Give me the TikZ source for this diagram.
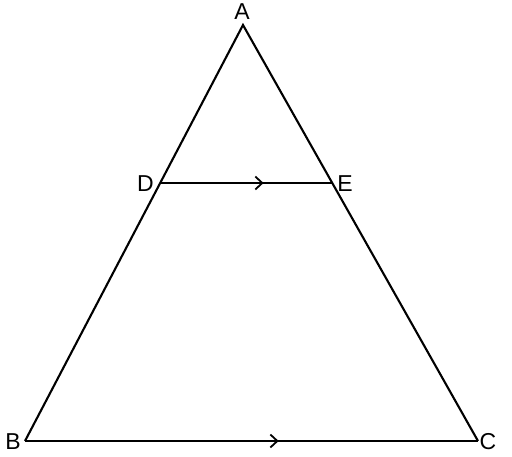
\documentclass[tikz,border=0pt]{standalone}
\usepackage{fontspec}
\setmainfont{Liberation Sans}
\usetikzlibrary{arrows.meta,decorations.markings}
\tikzset{
  edge/.style={line width=2.1pt, black},
  lbl/.style={font=\fontsize{23}{23}\selectfont, inner sep=0pt},
  parmark/.style={postaction={decorate, decoration={markings,
      mark=at position #1 with {\arrow{Straight Barb[length=7pt,width=13pt,line width=1.8pt]}}}}}
}
\begin{document}
\begin{tikzpicture}[x=1pt,y=-1pt]
\useasboundingbox (0,0) rectangle (512,457);
\coordinate (A) at (243,25);
\coordinate (B) at (25,441);
\coordinate (C) at (478,441);
\coordinate (D) at (161,183);
\coordinate (E) at (332,183);
\draw[edge, line join=miter] (B) -- (A) -- (C);
\draw[edge, parmark=0.6] (D) -- (E);
\draw[edge, parmark=0.56] (B) -- (C);
\node[lbl] (lA) at (242,12) {A};
\node[lbl] (lD) at (145.5,184) {D};
\node[lbl] (lE) at (345,184) {E};
\node[lbl] (lB) at (13,442) {B};
\node[lbl] (lC) at (488,442) {C};
\end{tikzpicture}
\end{document}
